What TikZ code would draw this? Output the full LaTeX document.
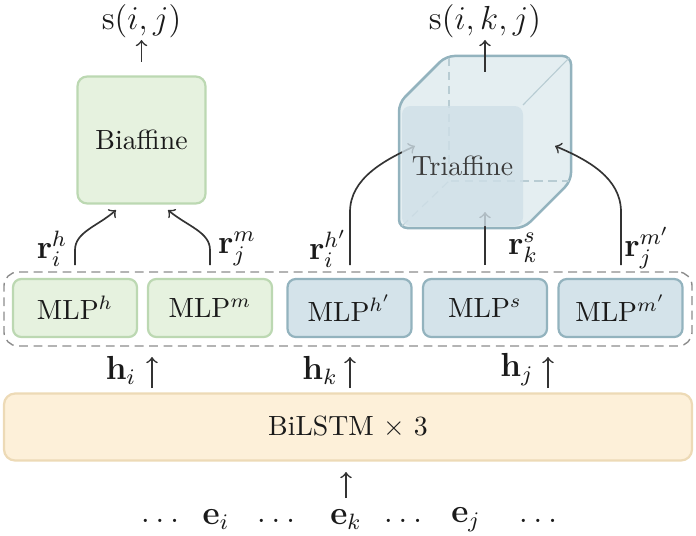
\documentclass[tikz,border=0pt]{standalone}
\usetikzlibrary{calc}
\definecolor{gfill}{HTML}{E6F2DF}
\definecolor{gstroke}{HTML}{BCD8B2}
\definecolor{bfill}{HTML}{D4E3EA}
\definecolor{bstroke}{HTML}{93B3BE}
\definecolor{cubefill}{HTML}{E4EEF1}
\definecolor{frontfill}{HTML}{CFDFE7}
\definecolor{hidden}{HTML}{B8CCD3}
\definecolor{lfill}{HTML}{FDF0D9}
\definecolor{lstroke}{HTML}{EDDAB6}
\definecolor{arrowc}{HTML}{333333}
\definecolor{labc}{HTML}{1A1A1A}
\definecolor{dashc}{HTML}{8C8C8C}
\tikzset{
  conn/.style={draw=arrowc, line width=0.6pt},
  arr/.style={conn,->},
  mlpg/.style={draw=gstroke, fill=gfill, line width=0.8pt, rounded corners=3pt,
    minimum width=124*0.36pt, minimum height=58*0.36pt, inner sep=0pt, text=labc},
  mlpb/.style={mlpg, draw=bstroke, fill=bfill},
  lab/.style={font=\large, text=labc, inner sep=0.5pt},
  hiddenedge/.style={draw=hidden, line width=0.4pt, dash pattern=on 3pt off 2pt},
}
\begin{document}
\begin{tikzpicture}[x=0.36pt,y=-0.36pt]
\useasboundingbox (0,0) rectangle (696,535);

% ---------- Biaffine ----------
\node[draw=gstroke, fill=gfill, line width=0.8pt, rounded corners=3.5pt,
  minimum width=128*0.36pt, minimum height=127*0.36pt, inner sep=0pt, text=labc]
  (bi) at (141.5,140) {Biaffine};
\node[lab, anchor=south] (sij) at (141.5,40) {$\mathrm{s}(i,j)$};
\coordinate (biTop) at (141.5,62);
\draw[arr] (biTop) -- (sij.south);

% ---------- Cube (Triaffine) ----------
\path[draw=bstroke, fill=cubefill, line width=0.9pt, rounded corners=3pt]
  (399,228) -- (399,103) -- (446,56) -- (571,56) -- (571,181) -- (524,228) -- cycle;
\draw[hiddenedge] (449,58) -- (449,181) -- (569,181);
\draw[hiddenedge] (402,226) -- (449,181);
\draw[draw=hidden, line width=0.4pt] (523,105) -- (569,58);

\coordinate (rhp) at (350,265);
\coordinate (rs) at (485,265);
\coordinate (rmp) at (621,265);
\coordinate (triL) at (415,146);
\coordinate (triR) at (555,146);
\coordinate (triB) at (485,212);
\draw[arr] (rhp) -- (350,212) .. controls (350,178) and (385,160) .. (triL);
\draw[arr] (rmp) -- (621,212) .. controls (621,178) and (588,160) .. (triR);
\draw[arr] (rs) -- (triB);

\node[fill=frontfill, fill opacity=0.8, text opacity=1, rounded corners=3pt,
  minimum width=121*0.36pt, minimum height=120*0.36pt, inner sep=0pt, text=labc!85]
  (tri) at (462.5,166) {Triaffine};

\node[lab, anchor=south] (sikj) at (485,40) {$\mathrm{s}(i,k,j)$};
\coordinate (cubeTop) at (485,72);
\draw[arr] (cubeTop) -- (sikj.south);

% ---------- Biaffine inputs ----------
\coordinate (rh) at (75,265);
\coordinate (rm) at (210,265);
\coordinate (biL) at (116,210);
\coordinate (biR) at (168,210);
\draw[arr] (rh) -- (75,250) .. controls (75,232) and (98,226) .. (biL);
\draw[arr] (rm) -- (210,250) .. controls (210,232) and (187,226) .. (biR);

% ---------- MLP group ----------
\node[draw=dashc, line width=0.5pt, dash pattern=on 3.2pt off 2pt, rounded corners=5pt,
  minimum width=688*0.36pt, minimum height=74*0.36pt, inner sep=0pt]
  (grp) at (348,309) {};
\node[mlpg] (mlph)  at (75,308)    {MLP$^{h}$};
\node[mlpg] (mlpm)  at (210,308)   {MLP$^{m}$};
\node[mlpb] (mlphp) at (349.5,308) {MLP$^{h'}$};
\node[mlpb] (mlps)  at (485,308)   {MLP$^{s}$};
\node[mlpb] (mlpmp) at (620.5,308) {MLP$^{m'}$};

% r labels
\node[lab] (lrh)  at (52,249)  {$\mathbf{r}_i^{h}$};
\node[lab] (lrm)  at (237,249) {$\mathbf{r}_j^{m}$};
\node[lab] (lrhp) at (328,249) {$\mathbf{r}_i^{h'}$};
\node[lab] (lrs)  at (523,248) {$\mathbf{r}_k^{s}$};
\node[lab] (lrmp) at (647,248) {$\mathbf{r}_j^{m'}$};

% ---------- BiLSTM ----------
\node[draw=lstroke, fill=lfill, line width=0.8pt, rounded corners=4pt,
  minimum width=688*0.36pt, minimum height=67*0.36pt, inner sep=0pt, text=labc]
  (lstm) at (348,427) {BiLSTM $\times$ 3};

% h labels
\node[lab] (hi) at (121,370) {$\mathbf{h}_i$};
\node[lab] (hk) at (320,370) {$\mathbf{h}_k$};
\node[lab] (hj) at (517,370) {$\mathbf{h}_j$};
\coordinate (hiA) at (152,388); \coordinate (hiB) at (152,357);
\coordinate (hkA) at (350,388); \coordinate (hkB) at (350,357);
\coordinate (hjA) at (548,388); \coordinate (hjB) at (548,357);
\draw[arr] (hiA) -- (hiB);
\draw[arr] (hkA) -- (hkB);
\draw[arr] (hjA) -- (hjB);

% ---------- embeddings ----------
\node[lab] (d1) at (160,521) {$\dots$};
\node[lab] (ei) at (216,520) {$\mathbf{e}_i$};
\node[lab] (d2) at (276,521) {$\dots$};
\node[lab] (ek) at (346,520) {$\mathbf{e}_k$};
\node[lab] (d3) at (403,521) {$\dots$};
\node[lab] (ej) at (466,520) {$\mathbf{e}_j$};
\node[lab] (d4) at (538,521) {$\dots$};
\coordinate (ekTop) at (346,498);
\draw[arr] (ekTop) -- (346,472);
\end{tikzpicture}
\end{document}
